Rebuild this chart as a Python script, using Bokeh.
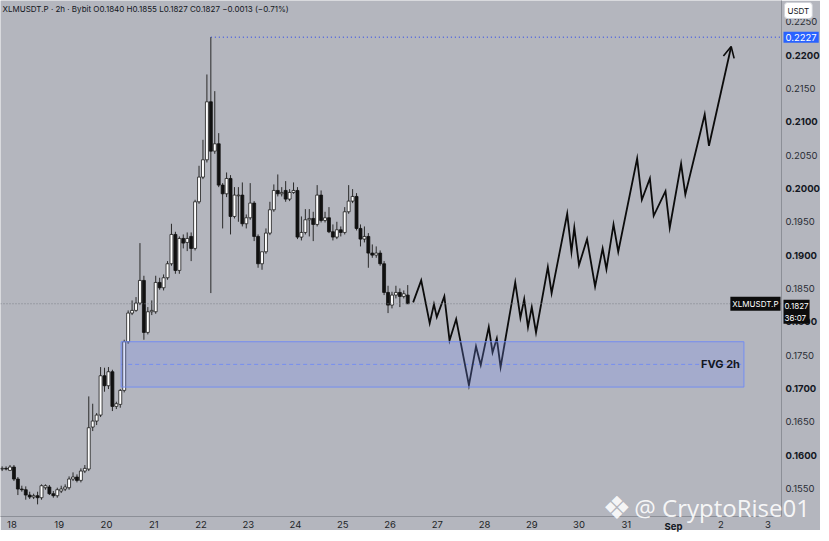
import numpy as np
from bokeh.plotting import figure
from bokeh.models import (FixedTicker, Span, BoxAnnotation, Label, Arrow, OpenHead,
                          Range1d, NumeralTickFormatter, GridBox)
from bokeh.embed import file_html
from bokeh.resources import INLINE

# ---- 2h candles, first candle opens Aug 17 18:00 (x in days from Aug 18 00:00) ----
opens = [.1579, .1580, .1577, .1582, .1564, .1549, .1548, .1540, .1537, .1539,
         .1536, .1551, .1552, .1542, .1539, .1546, .1549, .1551, .1564, .1567,
         .1562, .1576, .1579, .1642, .1651, .1660, .1719, .1704, .1725, .1673,
         .1676, .1697, .1770, .1813, .1817, .1828, .1862, .1784, .1815, .1815,
         .1859, .1851, .1866, .1887, .1931, .1877, .1925, .1919, .1928, .1910,
         .1980, .2017, .2043, .2130, .2056, .2067, .2005, .1992, .2015, .1958,
         .1989, .1990, .1947, .1956, .1978, .1928, .1887, .1905, .1933, .1968,
         .1997, .1992, .1997, .1984, .1994, .1997, .1927, .1934, .1953, .1955,
         .1946, .1990, .1952, .1956, .1935, .1927, .1938, .1934, .1965, .1981,
         .1988, .1940, .1924, .1928, .1903, .1900, .1903, .1887, .1844, .1825,
         .1840, .1844, .1838, .1840]
highs = [.1583, .1583, .1585, .1585, .1567, .1554, .1553, .1545, .1542, .1545,
         .1556, .1556, .1555, .1546, .1551, .1554, .1556, .1568, .1574, .1571,
         .1580, .1585, .1688, .1677, .1663, .1732, .1731, .1732, .1728, .1680,
         .1699, .1773, .1817, .1832, .1837, .1918, .1869, .1822, .1832, .1869,
         .1866, .1871, .1891, .1947, .1935, .1928, .1931, .1934, .1934, .1983,
         .2034, .2073, .2171, .2227, .2146, .2083, .2008, .2024, .2020, .2002,
         .2002, .2009, .1961, .2008, .1981, .1931, .1896, .1940, .1980, .2006,
         .2021, .2002, .2011, .1999, .2009, .2002, .1958, .1969, .1969, .1965,
         .2005, .1997, .1965, .1972, .1946, .1950, .1943, .1972, .2005, .1999,
         .1993, .1946, .1943, .1933, .1916, .1913, .1907, .1891, .1854, .1845,
         .1854, .1850, .1847, .1855]
lows = [.1576, .1577, .1576, .1561, .1540, .1545, .1533, .1534, .1534, .1526,
        .1533, .1548, .1540, .1536, .1536, .1543, .1546, .1548, .1561, .1559,
        .1559, .1573, .1576, .1636, .1645, .1657, .1695, .1699, .1666, .1669,
        .1671, .1694, .1767, .1810, .1815, .1825, .1773, .1781, .1810, .1812,
        .1848, .1847, .1863, .1884, .1872, .1872, .1910, .1906, .1891, .1907,
        .1977, .2014, .2039, .1843, .2052, .2002, .1940, .1987, .1931, .1955,
        .1950, .1943, .1940, .1953, .1921, .1881, .1878, .1902, .1930, .1965,
        .1988, .1988, .1980, .1981, .1992, .1924, .1922, .1931, .1928, .1921,
        .1943, .1949, .1949, .1933, .1922, .1924, .1928, .1931, .1962, .1978,
        .1937, .1913, .1919, .1881, .1896, .1896, .1884, .1840, .1813, .1820,
        .1835, .1822, .1835, .1827]
closes = [.1580, .1579, .1582, .1564, .1549, .1548, .1540, .1537, .1539, .1536,
          .1554, .1554, .1542, .1539, .1548, .1549, .1552, .1564, .1567, .1562,
          .1576, .1580, .1641, .1651, .1660, .1719, .1704, .1725, .1673, .1677,
          .1697, .1770, .1813, .1817, .1828, .1862, .1784, .1815, .1817, .1859,
          .1851, .1866, .1887, .1931, .1877, .1925, .1918, .1925, .1910, .1980,
          .2017, .2043, .2130, .2056, .2067, .2005, .1992, .2015, .1958, .1990,
          .1990, .1947, .1956, .1978, .1928, .1887, .1905, .1933, .1968, .1997,
          .1992, .1994, .1984, .1994, .1997, .1927, .1934, .1953, .1955, .1946,
          .1990, .1952, .1956, .1935, .1927, .1938, .1934, .1965, .1981, .1988,
          .1940, .1924, .1928, .1903, .1900, .1903, .1887, .1844, .1825, .1840,
          .1844, .1838, .1842, .1827]

# ---- hand-drawn projection path ----
path_days = [8.49, 8.66, 8.84, 8.93, 8.99, 9.15, 9.26, 9.40, 9.67, 9.82,
             9.92, 10.09, 10.17, 10.26, 10.34, 10.65, 10.76, 10.84, 10.92, 11.00,
             11.09, 11.34, 11.42, 11.75, 11.84, 11.90, 12.00, 12.17, 12.34, 12.50,
             12.58, 12.73, 12.83, 13.23, 13.33, 13.50, 13.58, 13.83, 13.92, 14.16,
             14.25, 14.66, 14.75, 15.22]
path_prices = [.1829, .1862, .1798, .1826, .1807, .1838, .1772, .1804, .1705, .1763,
               .1735, .1792, .1754, .1775, .1732, .1859, .1806, .1834, .1792, .1822,
               .1784, .1882, .1843, .1962, .1905, .1941, .1885, .1924, .1853, .1910,
               .1879, .1946, .1905, .2045, .1983, .2015, .1959, .1996, .1941, .2037,
               .1991, .2111, .2064, .2213]

day_labels = ["18", "19", "20", "21", "22", "23", "24", "25", "26", "27", "28",
              "29", "30", "31", "Sep", "2", "3"]
bold_day = "Sep"
price_ticks_half = [0.1550, 0.1650, 0.1750, 0.1850, 0.1950, 0.2050, 0.2150, 0.2250]
price_ticks_round = [0.1600, 0.1700, 0.1800, 0.1900, 0.2000, 0.2100, 0.2200]

fvg_left, fvg_right = 2.31, 15.49
fvg_top, fvg_bottom = 0.1770, 0.1702
spike_high = 0.2227
last_price = 0.1827
countdown = "36:07"
header = "XLMUSDT.P · 2h · Bybit  O0.1840  H0.1855  L0.1827  C0.1827  −0.0013 (−0.71%)"

X0, X1 = -0.243, 16.285
Y0, Y1 = 0.15078, 0.2282
FW, FH = 781, 516          # plot frame size in px
W, H = 821, 533            # overlay size in px
BG = "#b4b6be"
FONT = "Inter"

n = len(closes)
t = -0.25 + (np.arange(n) + 0.5) / 12.0
o = np.array(opens); c = np.array(closes); h = np.array(highs); l = np.array(lows)
up = c >= o
dn = ~up


def zero_borders(f):
    f.min_border_left = 0
    f.min_border_top = 0
    f.min_border_right = 0
    f.min_border_bottom = 0
    f.outline_line_color = None
    f.grid.visible = False


def base_fig(transparent):
    f = figure(frame_width=FW, frame_height=FH, x_range=Range1d(X0, X1),
               y_range=Range1d(Y0, Y1), output_backend="svg", toolbar_location=None,
               y_axis_location="right")
    zero_borders(f)
    if transparent:
        f.background_fill_alpha = 0
        f.border_fill_alpha = 0
    else:
        f.background_fill_color = BG
        f.border_fill_color = BG
    for ax in (f.xaxis[0], f.yaxis[0]):
        ax.axis_line_color = None if transparent else "#8c8f97"
        ax.major_tick_line_color = None
        ax.minor_tick_line_color = None
        ax.major_tick_out = 0
        ax.major_tick_in = 0
        ax.minor_tick_out = 0
        ax.minor_tick_in = 0
        ax.major_label_text_font = FONT
        ax.major_label_text_font_size = "9.5px"
        ax.major_label_standoff = 4
    f.yaxis.formatter = NumeralTickFormatter(format="0.0000")
    return f


# ---------- main chart ----------
p = base_fig(False)
p.xaxis.ticker = FixedTicker(ticks=[i for i, s in enumerate(day_labels) if s != bold_day])
p.xaxis.major_label_overrides = {i: s for i, s in enumerate(day_labels)}
p.xaxis.major_label_text_color = "#1c1f26"
p.yaxis.ticker = FixedTicker(ticks=price_ticks_half)
p.yaxis.major_label_text_color = "#2a2d35"

p.add_layout(BoxAnnotation(left=fvg_left, right=fvg_right, bottom=fvg_bottom, top=fvg_top,
                           fill_color="#7b8ff0", fill_alpha=0.28,
                           line_color="#6f8af5", line_width=1, line_alpha=0.9))
fvg_mid = (fvg_top + fvg_bottom) / 2
p.segment(x0=[fvg_left], y0=[fvg_mid], x1=[fvg_right], y1=[fvg_mid],
          line_color="#6f8af5", line_dash="4 3", line_width=1, line_alpha=0.9)

p.add_layout(Span(location=last_price, dimension="width", line_color="#7d8088",
                  line_dash="1 2", line_width=1))
p.segment(x0=[t[int(np.argmax(h))]], y0=[spike_high], x1=[X1], y1=[spike_high],
          line_color="#4f66e0", line_dash="1 3", line_width=1.5)

w = 0.75 / 12
p.segment(x0=t, y0=l, x1=t, y1=h, line_color="#2a2a2a", line_width=1)
p.vbar(x=t[up], width=w, top=c[up], bottom=o[up], fill_color="white",
       line_color="#1a1a1a", line_width=0.8)
p.vbar(x=t[dn], width=w, top=o[dn], bottom=c[dn], fill_color="#111111",
       line_color="#111111", line_width=0.8)

p.line(path_days[:-1], path_prices[:-1], line_color="#0b0b0b", line_width=1.8,
       line_join="miter")
p.add_layout(Arrow(end=OpenHead(size=11, line_width=1.6, line_color="#0b0b0b"),
                   x_start=path_days[-2], y_start=path_prices[-2],
                   x_end=path_days[-1], y_end=path_prices[-1],
                   line_width=1.8, line_color="#0b0b0b"))

p.add_layout(Label(x=fvg_right, x_offset=-4, y=fvg_mid, text="FVG 2h", text_align="right",
                   text_baseline="middle", text_font=FONT, text_font_style="bold",
                   text_font_size="11px", text_color="#131722"))
p.add_layout(Label(x=X0, x_offset=2, y=Y1, y_offset=-3, text=header, text_align="left",
                   text_baseline="top", text_font=FONT, text_font_size="8px",
                   text_color="#131722"))
p.add_layout(Label(x=X1, x_offset=-1, y=last_price, text="XLMUSDT.P", text_align="right",
                   text_baseline="middle", text_font=FONT, text_font_size="8px",
                   text_color="white", background_fill_color="#0c0c0c", padding=2))

# ---------- bold labels of the scales (same frame, transparent) ----------
p2 = base_fig(True)
p2.xaxis.ticker = FixedTicker(ticks=[day_labels.index(bold_day)])
p2.xaxis.major_label_overrides = {i: s for i, s in enumerate(day_labels)}
p2.xaxis.major_label_text_font_style = "bold"
p2.xaxis.major_label_text_color = "#131722"
p2.yaxis.ticker = FixedTicker(ticks=price_ticks_round)
p2.yaxis.major_label_text_font_style = "bold"
p2.yaxis.major_label_text_color = "#131722"

# ---------- overlay for tags over the price scale and the watermark ----------
p3 = figure(frame_width=W, frame_height=H,
            x_range=Range1d(X0, X0 + (X1 - X0) * W / FW),
            y_range=Range1d(Y1 - (Y1 - Y0) * H / FH, Y1),
            x_axis_type=None, y_axis_type=None, output_backend="svg",
            toolbar_location=None)
zero_borders(p3)
p3.background_fill_alpha = 0
p3.border_fill_alpha = 0

p3.add_layout(Label(x=X1, x_offset=3, y=Y1, y_offset=-2, text="USDT", text_align="left",
                    text_baseline="top", text_font=FONT, text_font_size="8px",
                    text_color="#131722", background_fill_color="white",
                    border_line_color="#d0d2d8", padding=3, border_radius=3))
p3.add_layout(Label(x=X1, x_offset=2, y=spike_high, text=f"{spike_high:.4f}", text_align="left",
                    text_baseline="middle", text_font=FONT, text_font_size="9.5px",
                    text_color="white", background_fill_color="#2962ff", padding=2))
p3.add_layout(Label(x=X1, x_offset=2, y=last_price, y_offset=4,
                    text=f"{last_price:.4f}\n{countdown}",
                    text_align="left", text_baseline="top", text_font=FONT,
                    text_font_size="8px", text_color="white",
                    background_fill_color="#0c0c0c", padding=1))
p3.add_layout(Label(x=12.80, y=0.1521, text="❖", text_align="center", text_baseline="middle",
                    text_font="DejaVu Sans", text_font_size="32px", text_color="white",
                    text_alpha=0.9))
p3.add_layout(Label(x=13.17, y=0.1521, text="@ CryptoRise01", text_align="left",
                    text_baseline="middle", text_font="Open Sans", text_font_size="24px",
                    text_color="white", text_alpha=0.9))

layout = GridBox(children=[(p, 0, 0), (p2, 0, 0), (p3, 0, 0)])
open("out.html", "w").write(file_html(layout, INLINE))
